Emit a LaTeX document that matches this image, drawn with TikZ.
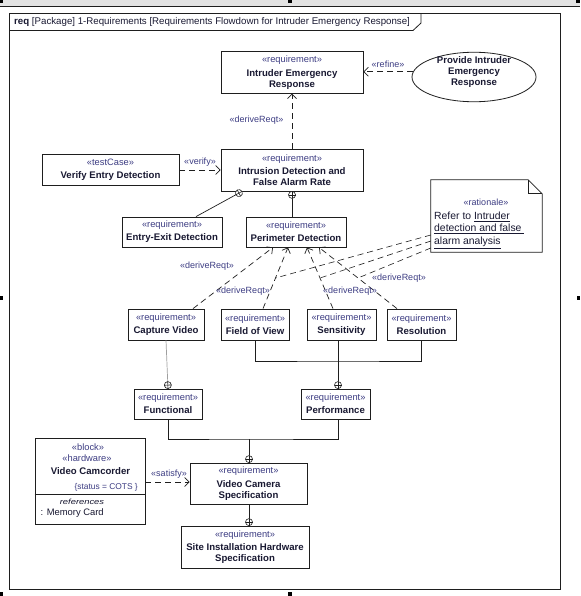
\documentclass[tikz,border=0pt]{standalone}
\usepackage{fontspec}
\setmainfont{Liberation Sans}
\usepackage{graphicx}
\usetikzlibrary{arrows.meta,calc,shapes.geometric,decorations.markings}
\definecolor{stereo}{RGB}{60,60,130}
\definecolor{namec}{RGB}{25,25,50}
\definecolor{linec}{RGB}{30,30,30}
\newcommand{\st}[1]{{\color{stereo}«#1»}}
\newcommand{\nm}[1]{{\fontsize{9.6}{10.8}\selectfont\bfseries\color{namec}#1}}
\tikzset{
  box/.style={draw=linec, line width=0.8pt, fill=white, inner sep=0pt, align=center,
    font=\fontsize{9.3}{10.8}\selectfont},
  dep/.style={draw=linec, line width=0.7pt, dash pattern=on 6pt off 4pt,
    -{Straight Barb[length=4.5pt,width=9pt,line width=0.7pt]}},
  anchorline/.style={draw=linec, line width=0.6pt, dash pattern=on 6pt off 4pt},
  lbl/.style={font=\fontsize{9}{10}\selectfont, text=stereo, inner sep=0pt},
  tree/.style={draw=linec, line width=0.7pt},
  contain/.style={draw=linec, line width=0.7pt, postaction={decorate},
    decoration={markings, mark=at position -3.5pt with {
      \draw[linec, line width=0.6pt, fill=white] (0pt,0pt) circle[radius=3.5pt];
      \draw[linec, line width=0.6pt] (-3.5pt,0pt)--(3.5pt,0pt) (0pt,-3.5pt)--(0pt,3.5pt);}}},
  handle/.style={fill=black, draw=none},
}
\begin{document}
\begin{tikzpicture}[x=1pt,y=-1pt]
\useasboundingbox (0,0) rectangle (580,596);
% window band and selection handles
\fill[gray!22] (0,0) rectangle (580,6);
\draw[linec, line width=1.2pt] (0,6.5) -- (580,6.5);
\fill[handle] (0,0) rectangle (3,3);
\fill[handle] (288,0) rectangle (292,3);
\fill[handle] (576,0) rectangle (580,3);
\fill[handle] (0,296) rectangle (3,300);
\fill[handle] (577,296) rectangle (580,300);
\fill[handle] (0,592) rectangle (3,596);
\fill[handle] (288,592) rectangle (292,596);
% frame
\draw[linec, line width=1pt] (9,14) rectangle (560,589);
\draw[linec, line width=0.8pt] (9,30.5) -- (413,30.5) -- (421,23) -- (421,14);
\node[anchor=west, inner sep=0pt, font=\fontsize{9.7}{11}\selectfont, text=namec] (hdr) at (14,21.5)
  {\textbf{req} [Package] 1-Requirements [Requirements Flowdown for Intruder Emergency Response]};

% nodes
\node[box, minimum width=142, minimum height=41.6] (ier) at (292,72.5)
  {\st{requirement}\\[3pt]\nm{Intruder Emergency}\\\nm{Response}};
\node[draw=linec, line width=0.8pt, ellipse, fill=white, minimum width=124, minimum height=49.5, inner sep=0pt] (ell) at (474,77) {};
\node[align=center, inner sep=0pt, font=\fontsize{9.6}{11.3}\selectfont] (elltxt) at (474,72)
  {\nm{Provide Intruder}\\\nm{Emergency}\\\nm{Response}};
\node[box, minimum width=142, minimum height=42] (intr) at (292,170)
  {\st{requirement}\\[3pt]\nm{Intrusion Detection and}\\\nm{False Alarm Rate}};
\node[box, minimum width=137, minimum height=31.7] (ver) at (110.5,170)
  {\st{testCase}\\[2pt]\nm{Verify Entry Detection}};
\node[box, minimum width=100, minimum height=30] (entry) at (172,232)
  {\st{requirement}\\[2pt]\nm{Entry-Exit Detection}};
\node[box, minimum width=100, minimum height=30] (perim) at (296,232)
  {\st{requirement}\\[2pt]\nm{Perimeter Detection}};
\node[box, minimum width=76, minimum height=31] (cap) at (166,324.5)
  {\st{requirement}\\[2pt]\nm{Capture Video}};
\node[box, minimum width=68, minimum height=31] (fov) at (255,324.5)
  {\st{requirement}\\[2pt]\nm{Field of View}};
\node[box, minimum width=69, minimum height=31] (sens) at (341.5,324.5)
  {\st{requirement}\\[2pt]\nm{Sensitivity}};
\node[box, minimum width=69, minimum height=31] (res) at (421.5,324.5)
  {\st{requirement}\\[2pt]\nm{Resolution}};
\node[box, minimum width=68, minimum height=30] (func) at (168,404)
  {\st{requirement}\\[2pt]\nm{Functional}};
\node[box, minimum width=69, minimum height=30] (perf) at (335.5,404)
  {\st{requirement}\\[2pt]\nm{Performance}};
\node[box, minimum width=117, minimum height=41] (vcs) at (248.5,483.5)
  {\st{requirement}\\[3pt]\nm{Video Camera}\\\nm{Specification}};
\node[box, minimum width=128, minimum height=42] (sihs) at (245,547)
  {\st{requirement}\\[3pt]\nm{Site Installation Hardware}\\\nm{Specification}};

% block
\node[draw=linec, line width=0.8pt, fill=white, minimum width=110, minimum height=86, inner sep=0pt] (blk) at (90,481) {};
\coordinate (dv) at (0,494);
\draw[linec, line width=0.8pt] (blk.west |- dv) -- (blk.east |- dv);
\node[inner sep=0pt, font=\fontsize{9.3}{10.8}\selectfont] (bst1) at (88,447) {\st{block}};
\node[inner sep=0pt, font=\fontsize{9.3}{10.8}\selectfont] (bst2) at (87,458.5) {\st{hardware}};
\node[inner sep=0pt, font=\fontsize{9.3}{10.8}\selectfont] (bnm) at (90.5,471.5) {\nm{Video Camcorder}};
\node[anchor=east, inner sep=0pt, font=\fontsize{8.4}{10}\selectfont, text=stereo] (bstat) at (138,487.5) {\{status = COTS \}};
\node[inner sep=0pt, font=\fontsize{7.5}{9}\selectfont, text=namec] (bref) at (82,501.5) {\scalebox{1.25}[1]{\itshape references}};
\node[anchor=west, inner sep=0pt, font=\fontsize{9.4}{11}\selectfont, text=namec] (bmem) at (40.5,513.5) {: Memory Card};

% rationale note
\node[minimum width=111, minimum height=72, inner sep=0pt] (note) at (486.5,216) {};
\draw[linec, line width=0.8pt, fill=white] (note.south west) -- (note.north west)
  -- ($(note.north east)+(-14,0)$) -- ($(note.north east)+(0,14)$) -- (note.south east) -- cycle;
\draw[linec, line width=0.7pt] ($(note.north east)+(-14,0)$) |- ($(note.north east)+(0,14)$);
\node[inner sep=0pt, font=\fontsize{9}{10}\selectfont] (nst) at (486,202.5) {\st{rationale}};
\node[anchor=north west, align=left, inner sep=0pt, font=\fontsize{10.4}{12.5}\selectfont, text=namec] (ntx) at (434,211.5)
  {Refer to \underline{Intruder}\\\underline{detection and false }\\\underline{alarm analysis}};

% dependencies
\draw[dep] (ell.175.6) -- (ell.175.6 -| ier.east);
\node[lbl] (lref) at (388,64) {«refine»};
\draw[dep] (intr.north) -- (ier.south);
\node[lbl] (lder0) at (256.5,120) {«deriveReqt»};
\draw[dep] (ver.east) -- (intr.west);
\node[lbl] (lver) at (200,162) {«verify»};
\draw[dep] ($(cap.north)+(27,0)$) -- ($(perim.south)+(-23,0)$);
\draw[dep] ($(fov.north)+(8,0)$) -- coordinate (mfov) ($(perim.south)+(-8,0)$);
\draw[dep] ($(sens.north)+(-8.5,0)$) -- coordinate (msens) ($(perim.south)+(11,0)$);
\draw[dep] ($(res.north)+(-24.5,0)$) -- coordinate (mres) ($(perim.south)+(23,0)$);
\node[lbl] (lder1) at (207,266) {«deriveReqt»};
\node[lbl] (lder2) at (243,291) {«deriveReqt»};
\node[lbl] (lder3) at (350,291) {«deriveReqt»};
\node[lbl] (lder4) at (399,278) {«deriveReqt»};
\coordinate (na1) at (0,235);
\coordinate (na2) at (0,241);
\coordinate (na3) at (0,248);
\coordinate (sy) at (0,482);
\draw[anchorline] (note.west |- na1) -- (mfov);
\draw[anchorline] (note.west |- na2) -- (msens);
\draw[anchorline] (note.west |- na3) -- (mres);
\draw[dep] (blk.east |- sy) -- (vcs.west |- sy);
\node[lbl] (lsat) at (169,474.5) {«satisfy»};

% containment
\draw[contain] ($(entry.north)+(24,0)$) -- ($(intr.south)+(-50,0)$);
\draw[contain] (intr.south |- perim.north) -- (intr.south);
\draw[contain, draw=gray!75] (cap.south) -- (func.north);
\coordinate (pj) at (338,361);
\draw[tree] (fov.south) |- (pj) -| (res.south);
\draw[contain] (sens.south -| pj) -- (perf.north -| pj);
\coordinate (j2) at (249,439);
\draw[tree] (func.south) |- (j2) -| (perf.south -| pj);
\draw[contain] (j2) -- (vcs.north -| j2);
\draw[contain] (vcs.south -| j2) -- (sihs.north -| j2);
\end{tikzpicture}
\end{document}
